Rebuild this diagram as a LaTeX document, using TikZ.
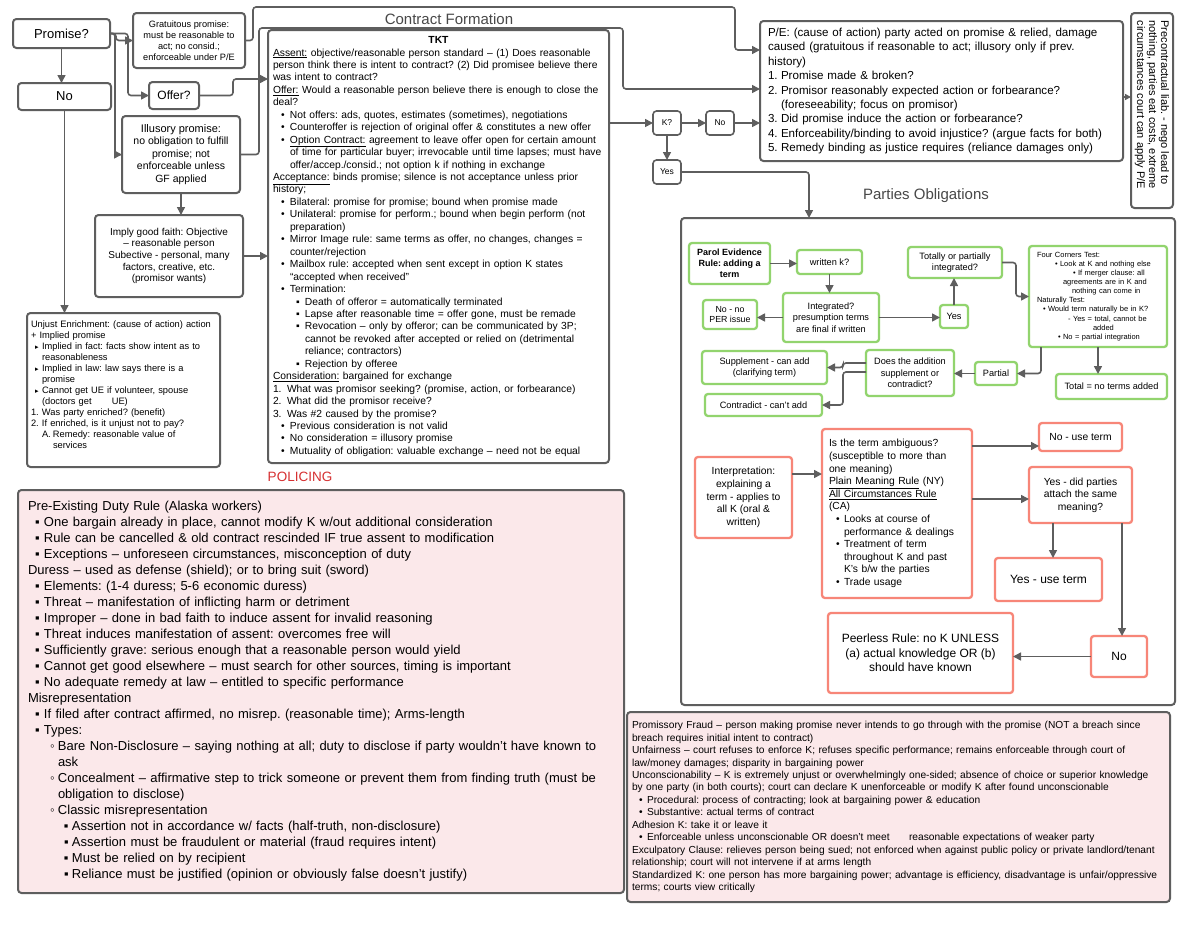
\documentclass[tikz,border=0pt]{standalone}
\usepackage{fontspec}
\setmainfont{Liberation Sans}
\newfontfamily\dvfont{DejaVu Sans}
\usepackage{graphicx}
\usetikzlibrary{arrows.meta}
\definecolor{lg}{RGB}{94,94,94}
\definecolor{grn}{RGB}{146,212,110}
\definecolor{sal}{RGB}{247,134,120}
\definecolor{pnk}{RGB}{251,232,234}
\definecolor{redt}{RGB}{214,48,49}
\definecolor{ttl}{RGB}{72,72,72}
\newcommand\fsz[2]{\fontsize{#1}{#2}\selectfont}
\newcommand\myb[3]{\hspace*{#1pt}\makebox[#2pt][l]{#3}}
\newcommand\myc[1]{\hspace*{#1pt}}
\newcommand\tri{{\dvfont\fontsize{7}{7}\selectfont ▸}}
\frenchspacing
\hyphenpenalty=10000
\begin{document}
\begin{tikzpicture}[x=1pt,y=-1pt,
 base/.style={inner sep=0pt,outer sep=0pt,text=black},
 bx/.style={base,draw=lg,line width=2pt,rounded corners=3.5pt,fill=white},
 gb/.style={base,draw=grn,line width=2.3pt,rounded corners=3pt,fill=white},
 sb/.style={base,draw=sal,line width=2.3pt,rounded corners=3pt,fill=white},
 pb/.style={base,draw=lg,line width=2pt,rounded corners=3.5pt,fill=pnk},
 sz/.style 2 args={minimum width=#1pt,minimum height=#2pt},
 arr/.style={draw=lg,line width=1.6pt,rounded corners=3pt,-{Triangle[length=8pt,width=8pt]}},
 ttlf/.style={base,text=ttl,font=\fsz{15}{17}}]
\fill[white] (0,0) rectangle (1200,927);
\useasboundingbox (0,0) rectangle (1200,927);

% ---------- left column ----------
\node[bx,sz={97}{29},font=\fsz{13}{15}] (promise) at (61.5,33.5) {Promise?};
\node[bx,sz={93}{27},font=\fsz{13}{15}] (no1) at (64.5,96.5) {No};
\node[bx,sz={112}{55},align=center,font=\fsz{9.2}{11}] (grat) at (189,40.5)
 {Gratuitous promise:\\must be reasonable to\\act; no consid.;\\enforceable under P/E};
\node[bx,sz={50}{27},font=\fsz{12}{14}] (offer) at (174,95.5) {Offer?};
\node[bx,sz={118}{77},align=center,font=\fsz{10.5}{12.5}] (illus) at (181,154.5)
 {{\fsz{11}{12.5}Illusory promise:}\\no obligation to fulfill\\promise; not\\enforceable unless\\GF applied};
\node[bx,sz={148}{82},align=center,font=\fsz{10}{11.7}] (imply) at (169,256)
 {Imply good faith: Objective\\– reasonable person\\Subective - personal, many\\factors, creative, etc.\\(promisor wants)};
\node[bx,sz={193}{154},text width=185pt,align=left,font=\fsz{9.3}{11}] (unjust) at (123.5,390)
 {Unjust Enrichment: (cause of action) action\\
 + Implied promise\\
 \myb{4}{7}{\tri}Implied in fact: facts show intent as to\\
 \myc{11}reasonableness\\
 \myb{4}{7}{\tri}Implied in law: law says there is a\\
 \myc{11}promise\\
 \myb{4}{7}{\tri}Cannot get UE if volunteer, spouse\\
 \myc{11}(doctors get \hspace{14pt} UE)\\
 \myb{0}{11}{1.}Was party enriched? (benefit)\\
 \myb{0}{11}{2.}If enriched, is it unjust not to pay?\\
 \myb{11}{11}{A.}Remedy: reasonable value of\\
 \myc{22}services\\ \mbox{}};

% ---------- TKT ----------
\node[ttlf] (cf) at (449,19) {Contract Formation};
\node[bx,sz={341}{433},text width=331pt,align=left,font=\fsz{10.3}{12.45}] (tkt) at (438.5,246.5)
 {\makebox[331pt]{\textbf{TKT}}\\
 \underline{Assent:} objective/reasonable person standard – (1) Does reasonable\\
 person think there is intent to contract? (2) Did promisee believe there\\
 was intent to contract?\\
 \underline{Offer:} Would a reasonable person believe there is enough to close the\\
 deal?\\
 \myb{8}{9}{•}Not offers: ads, quotes, estimates (sometimes), negotiations\\
 \myb{8}{9}{•}Counteroffer is rejection of original offer \& constitutes a new offer\\
 \myb{8}{9}{•}\underline{Option Contract:} agreement to leave offer open for certain amount\\
 \myc{17}of time for particular buyer; irrevocable until time lapses; must have\\
 \myc{17}offer/accep./consid.; not option k if nothing in exchange\\
 \underline{Acceptance:} binds promise; silence is not acceptance unless prior\\
 history;\\
 \myb{8}{9}{•}Bilateral: promise for promise; bound when promise made\\
 \myb{8}{9}{•}Unilateral: promise for perform.; bound when begin perform (not\\
 \myc{17}preparation)\\
 \myb{8}{9}{•}Mirror Image rule: same terms as offer, no changes, changes =\\
 \myc{17}counter/rejection\\
 \myb{8}{9}{•}Mailbox rule: accepted when sent except in option K states\\
 \myc{17}“accepted when received”\\
 \myb{8}{9}{•}Termination:\\
 \myb{23}{9}{▪}Death of offeror = automatically terminated\\
 \myb{23}{9}{▪}Lapse after reasonable time = offer gone, must be remade\\
 \myb{23}{9}{▪}Revocation – only by offeror; can be communicated by 3P;\\
 \myc{32}cannot be revoked after accepted or relied on (detrimental\\
 \myc{32}reliance; contractors)\\
 \myb{23}{9}{▪}Rejection by offeree\\
 \underline{Consideration:} bargained for exchange\\
 \myb{0}{14}{1.}What was promisor seeking? (promise, action, or forbearance)\\
 \myb{0}{14}{2.}What did the promisor receive?\\
 \myb{0}{14}{3.}Was \#2 caused by the promise?\\
 \myb{8}{9}{•}Previous consideration is not valid\\
 \myb{8}{9}{•}No consideration = illusory promise\\
 \myb{8}{9}{•}Mutuality of obligation: valuable exchange – need not be equal};

% ---------- K? ----------
\node[bx,sz={28}{24},line width=1.6pt,font=\fsz{8.5}{10}] (kq) at (667,123) {K?};
\node[bx,sz={28}{24},line width=1.6pt,font=\fsz{8.5}{10}] (kno) at (720,123) {No};
\node[bx,sz={28}{24},line width=1.6pt,font=\fsz{8.5}{10}] (kyes) at (667,172) {Yes};

% ---------- P/E ----------
\node[bx,sz={363}{140},text width=347pt,align=left,font=\fsz{11.6}{14.4}] (pe) at (941.5,91)
 {P/E: (cause of action) party acted on promise \& relied, damage\\
 caused (gratuitous if reasonable to act; illusory only if prev.\\
 history)\\
 \myb{0}{13}{1.}Promise made \& broken?\\
 \myb{0}{13}{2.}Promisor reasonably expected action or forbearance?\\
 \myc{13}(foreseeability; focus on promisor)\\
 \myb{0}{13}{3.}Did promise induce the action or forbearance?\\
 \myb{0}{13}{4.}Enforceability/binding to avoid injustice? (argue facts for both)\\
 \myb{0}{13}{5.}Remedy binding as justice requires (reliance damages only)};
\node[bx,sz={42}{195}] (rot) at (1152,110.5)
 {\rotatebox{-90}{\parbox{180pt}{\fsz{11}{12}Precontractual liab. - nego lead to\\nothing, parties eat costs, extreme\\circumstances court can apply P/E}}};

% ---------- Parties obligations ----------
\node[ttlf] (po) at (926,196) {Parties Obligations};
\node[bx,sz={494}{487}] (parties) at (928,461.5) {};
\node[gb,sz={81}{41},align=center,font={\fsz{9}{11}\bfseries}] (parol) at (729.5,263.5) {Parol Evidence\\Rule: adding a\\term};
\node[gb,sz={65}{24},font=\fsz{9.2}{11}] (written) at (829.5,262) {written k?};
\node[gb,sz={96}{49},align=center,font=\fsz{9.2}{11.5}] (integ) at (831,317.5) {Integrated?\\presumption terms\\are final if written};
\node[gb,sz={54}{29},align=center,font=\fsz{8.8}{10.5}] (noper) at (730,314.5) {No - no\\PER issue};
\node[gb,sz={28}{23},font=\fsz{9.2}{11}] (yes2) at (954,316.5) {Yes};
\node[gb,sz={94}{31},align=center,font=\fsz{9.2}{11.5}] (totally) at (955,262.5) {Totally or partially\\integrated?};
\node[gb,sz={138}{101},text width=122pt,align=left,font=\fsz{7.5}{9.1}] (four) at (1098,296.5)
 {Four Corners Test:\\
 \myb{18}{5}{•}Look at K and nothing else\\
 \myb{36}{5}{•}If merger clause: all\\
 \myc{26}agreements are in K and\\
 \myc{35}nothing can come in\\
 Naturally Test:\\
 \myb{6}{5}{•}Would term naturally be in K?\\
 \myb{31}{5}{-}Yes = total, cannot be\\
 \myc{56}added\\
 \myb{21}{5}{•}No = partial integration};
\node[gb,sz={42}{23},font=\fsz{9.2}{11}] (partial) at (996,373.5) {Partial};
\node[gb,sz={88}{46},align=center,font=\fsz{9.2}{11.5}] (does) at (910,373) {Does the addition\\supplement or\\contradict?};
\node[gb,sz={125}{33},align=center,font=\fsz{9.2}{11.5}] (supp) at (764.5,367.5) {Supplement - can add\\(clarifying term)};
\node[gb,sz={117}{22},font=\fsz{9.2}{11}] (contra) at (763.5,405) {Contradict - can't add};
\node[gb,sz={111}{25},font=\fsz{9.2}{11}] (total) at (1111.5,386.5) {Total = no terms added};

\node[sb,sz={97}{81},align=center,font=\fsz{10.3}{12.7}] (interp) at (743.5,497.5)
 {Interpretation:\\explaining a\\term - applies to\\all K (oral \&\\written)};
\node[sb,sz={150}{169},text width=136pt,align=left,font=\fsz{10.3}{12.6}] (ambig) at (897,513.5)
 {Is the term ambiguous?\\(susceptible to more than\\one meaning)\\\underline{Plain Meaning Rule} (NY)\\\underline{All Circumstances Rule}\\(CA)\\
 \myb{7}{8}{•}Looks at course of\\\myc{15}performance \& dealings\\
 \myb{7}{8}{•}Treatment of term\\\myc{15}throughout K and past\\\myc{15}K's b/w the parties\\
 \myb{7}{8}{•}Trade usage};
\node[sb,sz={83}{28},font=\fsz{10.3}{12}] (nouse) at (1080.5,437) {No - use term};
\node[sb,sz={103}{56},align=center,font=\fsz{10.3}{12.5}] (yesdid) at (1080.5,495) {Yes - did parties\\attach the same\\meaning?};
\node[sb,sz={107}{43},font=\fsz{12}{14}] (yesuse) at (1048.5,579.5) {Yes - use term};
\node[sb,sz={185}{80},align=center,font=\fsz{12}{14.3}] (peer) at (920.5,653) {Peerless Rule: no K UNLESS\\(a) actual knowledge OR (b)\\should have known};
\node[sb,sz={56}{41},font=\fsz{12}{14}] (no3) at (1119,656.5) {No};

% ---------- Policing ----------
\node[base,text=redt,font=\fsz{13.5}{15}] (pol) at (300,477) {POLICING};
\node[pb,sz={606}{403},text width=586pt,align=left,font=\fsz{13}{16}] (polbox) at (321,691.5)
 {Pre-Existing Duty Rule (Alaska workers)\\
 \myb{7}{9}{▪}One bargain already in place, cannot modify K w/out additional consideration\\
 \myb{7}{9}{▪}Rule can be cancelled \& old contract rescinded IF true assent to modification\\
 \myb{7}{9}{▪}Exceptions – unforeseen circumstances, misconception of duty\\
 Duress – used as defense (shield); or to bring suit (sword)\\
 \myb{7}{9}{▪}Elements: (1-4 duress; 5-6 economic duress)\\
 \myb{7}{9}{▪}Threat – manifestation of inflicting harm or detriment\\
 \myb{7}{9}{▪}Improper – done in bad faith to induce assent for invalid reasoning\\
 \myb{7}{9}{▪}Threat induces manifestation of assent: overcomes free will\\
 \myb{7}{9}{▪}Sufficiently grave: serious enough that a reasonable person would yield\\
 \myb{7}{9}{▪}Cannot get good elsewhere – must search for other sources, timing is important\\
 \myb{7}{9}{▪}No adequate remedy at law – entitled to specific performance\\
 Misrepresentation\\
 \myb{7}{9}{▪}If filed after contract affirmed, no misrep. (reasonable time); Arms-length\\
 \myb{7}{9}{▪}Types:\\
 \myb{22}{8}{◦}Bare Non-Disclosure – saying nothing at all; duty to disclose if party wouldn't have known to\\
 \myc{30}ask\\
 \myb{22}{8}{◦}Concealment – affirmative step to trick someone or prevent them from finding truth (must be\\
 \myc{30}obligation to disclose)\\
 \myb{22}{8}{◦}Classic misrepresentation\\
 \myb{36}{8}{▪}Assertion not in accordance w/ facts (half-truth, non-disclosure)\\
 \myb{36}{8}{▪}Assertion must be fraudulent or material (fraud requires intent)\\
 \myb{36}{8}{▪}Must be relied on by recipient\\
 \myb{36}{8}{▪}Reliance must be justified (opinion or obviously false doesn't justify)};
\node[pb,sz={543}{190},text width=533pt,align=left,font=\fsz{10.2}{12.46}] (brbox) at (898.5,807)
 {Promissory Fraud – person making promise never intends to go through with the promise (NOT a breach since\\
 breach requires initial intent to contract)\\
 Unfairness – court refuses to enforce K; refuses specific performance; remains enforceable through court of\\
 law/money damages; disparity in bargaining power\\
 Unconscionability – K is extremely unjust or overwhelmingly one-sided; absence of choice or superior knowledge\\
 by one party (in both courts); court can declare K unenforceable or modify K after found unconscionable\\
 \myb{7}{8}{•}Procedural: process of contracting; look at bargaining power \& education\\
 \myb{7}{8}{•}Substantive: actual terms of contract\\
 Adhesion K: take it or leave it\\
 \myb{7}{8}{•}Enforceable unless unconscionable OR doesn't meet\hspace{16pt} reasonable expectations of weaker party\\
 Exculpatory Clause: relieves person being sued; not enforced when against public policy or private landlord/tenant\\
 relationship; court will not intervene if at arms length\\
 Standardized K: one person has more bargaining power; advantage is efficiency, disadvantage is unfair/oppressive\\
 terms; courts view critically};

% ---------- connectors ----------
\draw[arr] (promise.south) -- (promise.south |- no1.north);
\draw[arr] (no1.south) -- (no1.south |- unjust.north);
\draw[arr] (promise.east) -- ++(6,0) |- (grat.west);
\draw[arr] (promise.east) -- ++(18,0) |- (offer.west);
\draw[arr] (promise.east) -- ++(5,0) |- (illus.west);
\draw[arr] (grat.east) -- ++(8,0) |- (735,7) |- (pe.west |- 0,50);
\draw[arr] (illus.east) -- ++(19,0) |- (623,28) |- (pe.west |- 0,89);
\draw[arr] (offer.east) -- ++(34,0) |- (tkt.west |- 0,79);
\draw[arr] (imply.east) -- (tkt.west |- imply.east);
\draw[arr] (illus.south) -- (illus.south |- imply.north);
\draw[arr] (tkt.east |- kq.west) -- (kq.west);
\draw[arr] (kq.east) -- (kno.west);
\draw[arr] (kno.east) -- (pe.west |- kno.east);
\draw[arr] (kq.south) -- (kyes.north);
\coordinate (ptop) at (809,218);
\draw[arr] (kyes.east) -| (ptop);
\draw[arr,-{Triangle[length=6pt,width=6pt]}] (pe.east |- 0,97) -- (rot.west |- 0,97);

\draw[arr] (parol.east) -- (parol.east -| written.west);
\draw[arr] (written.south) -- (written.south |- integ.north);
\draw[arr] (integ.west) -- (integ.west -| noper.east);
\draw[arr] (integ.east) -- (integ.east -| yes2.west);
\draw[arr] (yes2.north) -- (yes2.north |- totally.south);
\draw[arr] (totally.east) -- ++(14,0) |- (four.west);
\draw[arr] (four.south -| 1041,0) |- (partial.east);
\draw[arr] (four.south) -- (four.south |- total.north);
\draw[arr] (partial.west) -- (partial.west -| does.east);
\draw[arr] (does.west |- 0,363) -- ++(-23,0) |- (supp.east);
\draw[arr] (does.west |- 0,372) -- ++(-23,0) |- (contra.east);

\draw[arr] (interp.east |- 0,474) -- (ambig.west |- 0,474);
\draw[arr] (ambig.east |- 0,446) -- (nouse.west |- 0,446);
\draw[arr] (ambig.east |- 0,499) -- (yesdid.west |- 0,499);
\draw[arr] (yesdid.south -| 1053,0) -- (yesuse.north -| 1053,0);
\draw[arr] (yesdid.south -| 1122,0) -- (no3.north -| 1122,0);
\draw[arr] (no3.west) -- (no3.west -| peer.east);
\end{tikzpicture}
\end{document}
